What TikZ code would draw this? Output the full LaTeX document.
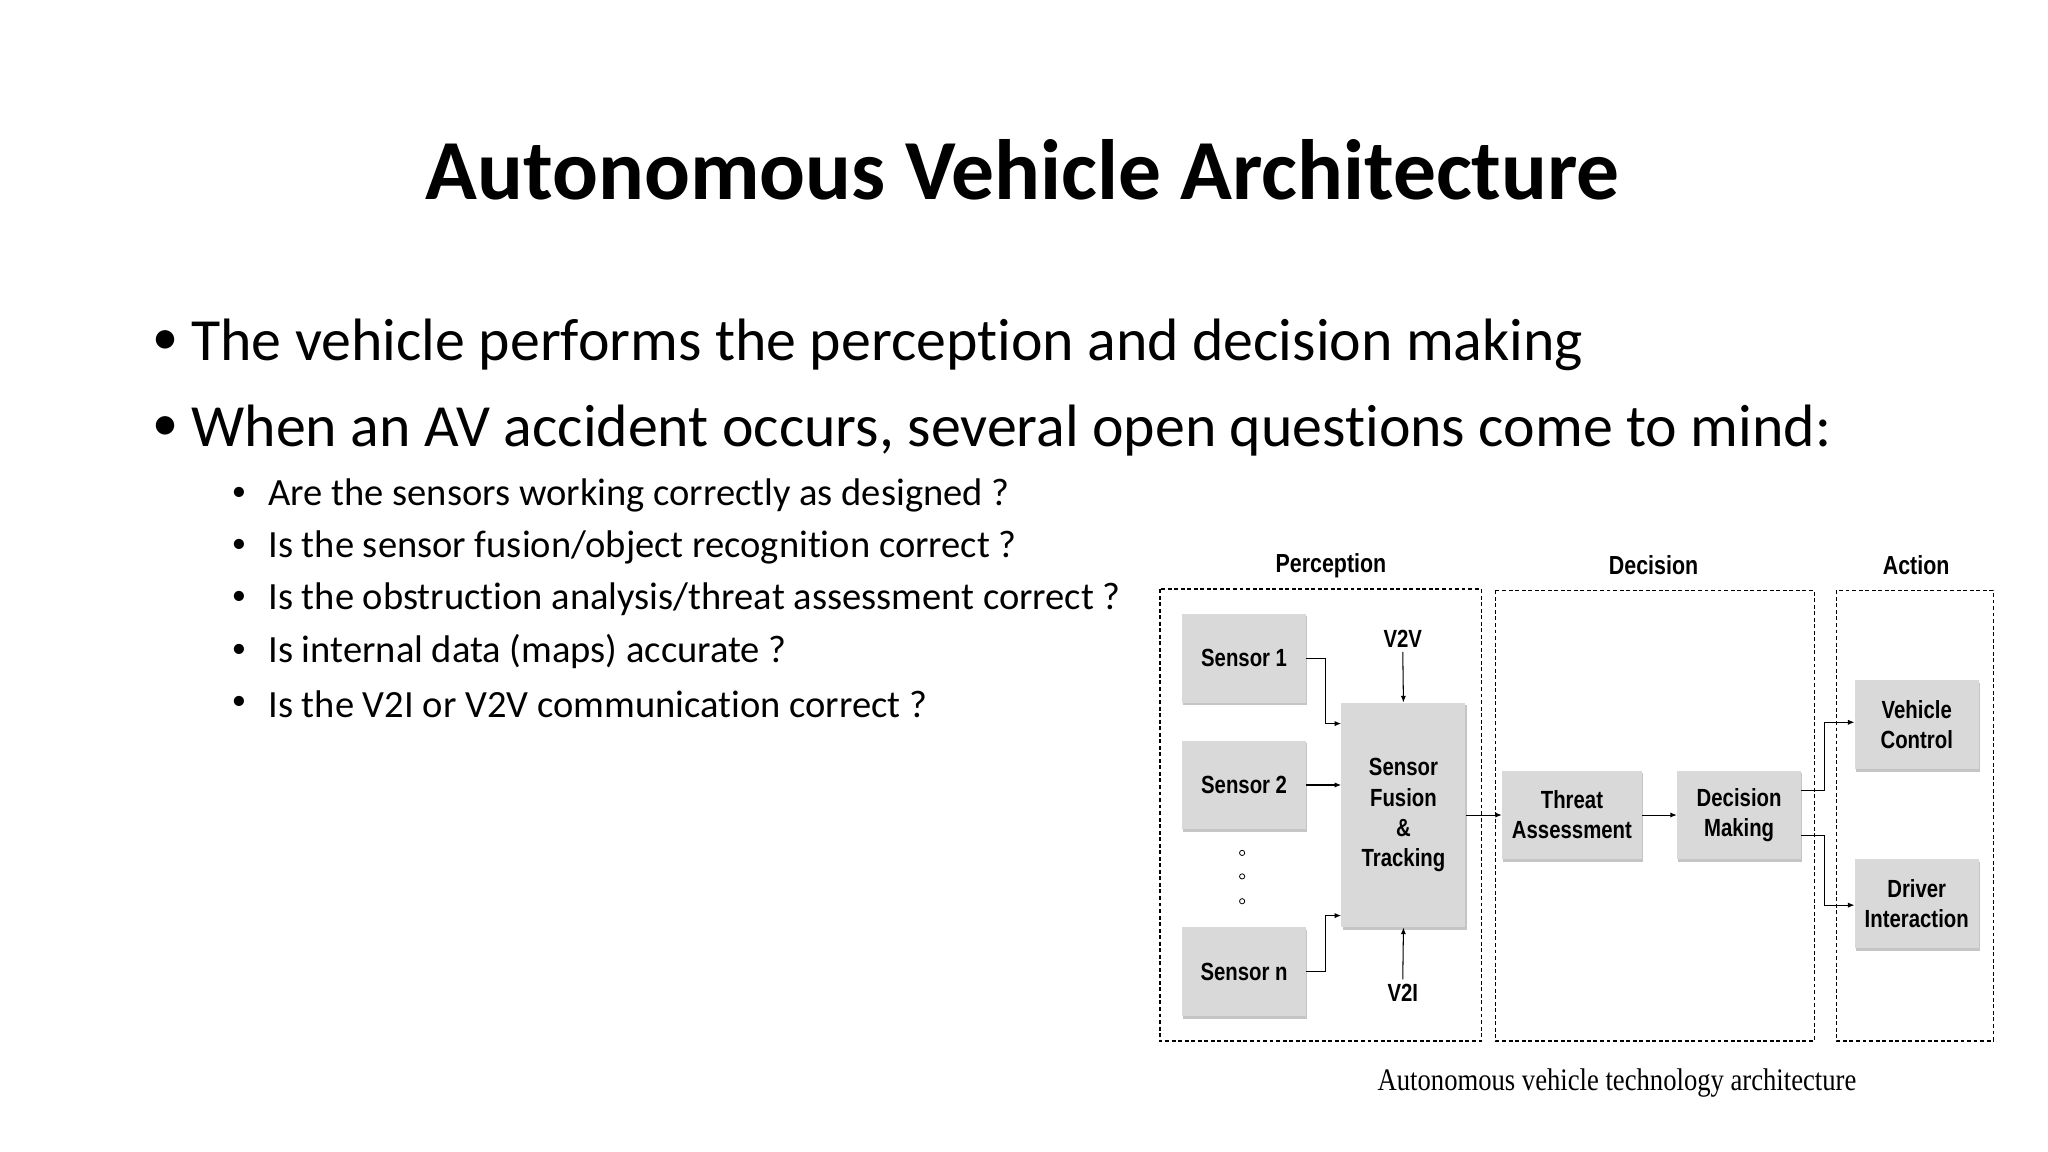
\documentclass[tikz,border=0pt]{standalone}
\usepackage{fontspec}
\setmainfont[Ligatures=NoCommon]{Carlito}
\newfontfamily\narrow[FakeStretch=0.82]{Liberation Sans}
\newfontfamily\capfont[FakeStretch=0.85]{Liberation Serif}
\usetikzlibrary{shadows,arrows.meta}
\begin{document}
\begin{tikzpicture}[x=1pt,y=-1pt,
  blk/.style={fill=black!15,draw=none,drop shadow={shadow xshift=1pt,shadow yshift=-2pt,fill=black!45},font=\narrow\bfseries\fontsize{19}{23}\selectfont,align=center,inner sep=0pt},
  zone/.style={draw,densely dashed,line width=1pt},
  hdr/.style={font=\narrow\bfseries\fontsize{20}{24}\selectfont},
  conn/.style={-{Latex[length=5pt,width=4pt]},line width=0.8pt},
  b1/.style={anchor=west,font=\fontsize{45.8}{52}\selectfont},
  b2/.style={anchor=west,font=\fontsize{29.5}{34}\selectfont}]
\useasboundingbox (0,0) rectangle (1568,882);
\node[font=\bfseries\fontsize{65.5}{72}\selectfont] (title) at (783,130) {Autonomous Vehicle Architecture};
\node[b1] (l1) at (143,264) {The vehicle performs the perception and decision making};
\node[b1] (l2) at (143,330) {When an AV accident occurs, several open questions come to mind:};
\node[font=\fontsize{40}{48}\selectfont] (m1) at (127,262) {\textbullet};
\node[font=\fontsize{40}{48}\selectfont] (m2) at (127,328) {\textbullet};
\foreach \t/\y [count=\i] in {{Are the sensors working correctly as designed ?}/379,{Is the sensor fusion/object recognition correct ?}/419,{Is the obstruction analysis/threat assessment correct ?}/459,{Is internal data (maps) accurate ?}/499,{Is the V2I or V2V communication correct ?}/539}{
  \node[b2] (s\i) at (202,\y) {\t};
  \node[font=\fontsize{22}{26}\selectfont] (d\i) at (183,\y-1) {\textbullet};}
% zones
\draw[zone] (888,451) rectangle (1134,797);
\draw[zone] (1145,452) rectangle (1389,797);
\draw[zone] (1406,452) rectangle (1526,797);
\node[hdr] (hp) at (1019,433) {Perception};
\node[hdr] (hd) at (1266,433) {Decision};
\node[hdr] (ha) at (1467,433) {Action};
% blocks
\node[blk,minimum width=95pt,minimum height=68pt] (sen1) at (952.5,504) {Sensor 1};
\node[blk,minimum width=95pt,minimum height=68pt] (sen2) at (952.5,601) {Sensor 2};
\node[blk,minimum width=95pt,minimum height=68pt] (senn) at (952.5,744) {Sensor n};
\node[blk,minimum width=95pt,minimum height=172pt] (fus) at (1074.5,624) {Sensor\\Fusion\\\&\\Tracking};
\node[blk,minimum width=107pt,minimum height=68pt] (thr) at (1203.5,624) {Threat\\Assessment};
\node[blk,minimum width=95pt,minimum height=68pt] (dm) at (1331.5,624) {Decision\\Making};
\node[blk,minimum width=95pt,minimum height=68pt] (vc) at (1467.5,555) {Vehicle\\Control};
\node[blk,minimum width=95pt,minimum height=68pt] (di) at (1467.5,692) {Driver\\Interaction};
\foreach \y [count=\i] in {653,671,690} \node[circle,draw,inner sep=0pt,minimum size=4pt,line width=0.6pt] (dot\i) at (951,\y) {};
\node[font=\narrow\bfseries\fontsize{19}{23}\selectfont] (v2v) at (1074,489) {V2V};
\node[font=\narrow\bfseries\fontsize{19}{23}\selectfont] (v2i) at (1074,760) {V2I};
% connectors
\draw[conn] (sen1.east) -| (1015,554) -- (fus.west |- 0,554);
\draw[conn] (sen2.east) -- (fus.west |- sen2.east);
\draw[conn] (senn.east) -| (1015,701) -- (fus.west |- 0,701);
\draw[conn] (v2v.south) -- (fus.north);
\draw[conn] (v2i.north) -- (fus.south);
\draw[conn] (fus.east) -- (thr.west);
\draw[conn] (thr.east) -- (dm.west);
\draw[conn] (dm.east |- 0,605) -| (1397,553) -- (vc.west |- 0,553);
\draw[conn] (dm.east |- 0,640) -| (1397,693) -- (di.west |- 0,693);
\node[font=\capfont\fontsize{24}{28}\selectfont] (cap) at (1238,829) {Autonomous vehicle technology architecture};
\end{tikzpicture}
\end{document}
